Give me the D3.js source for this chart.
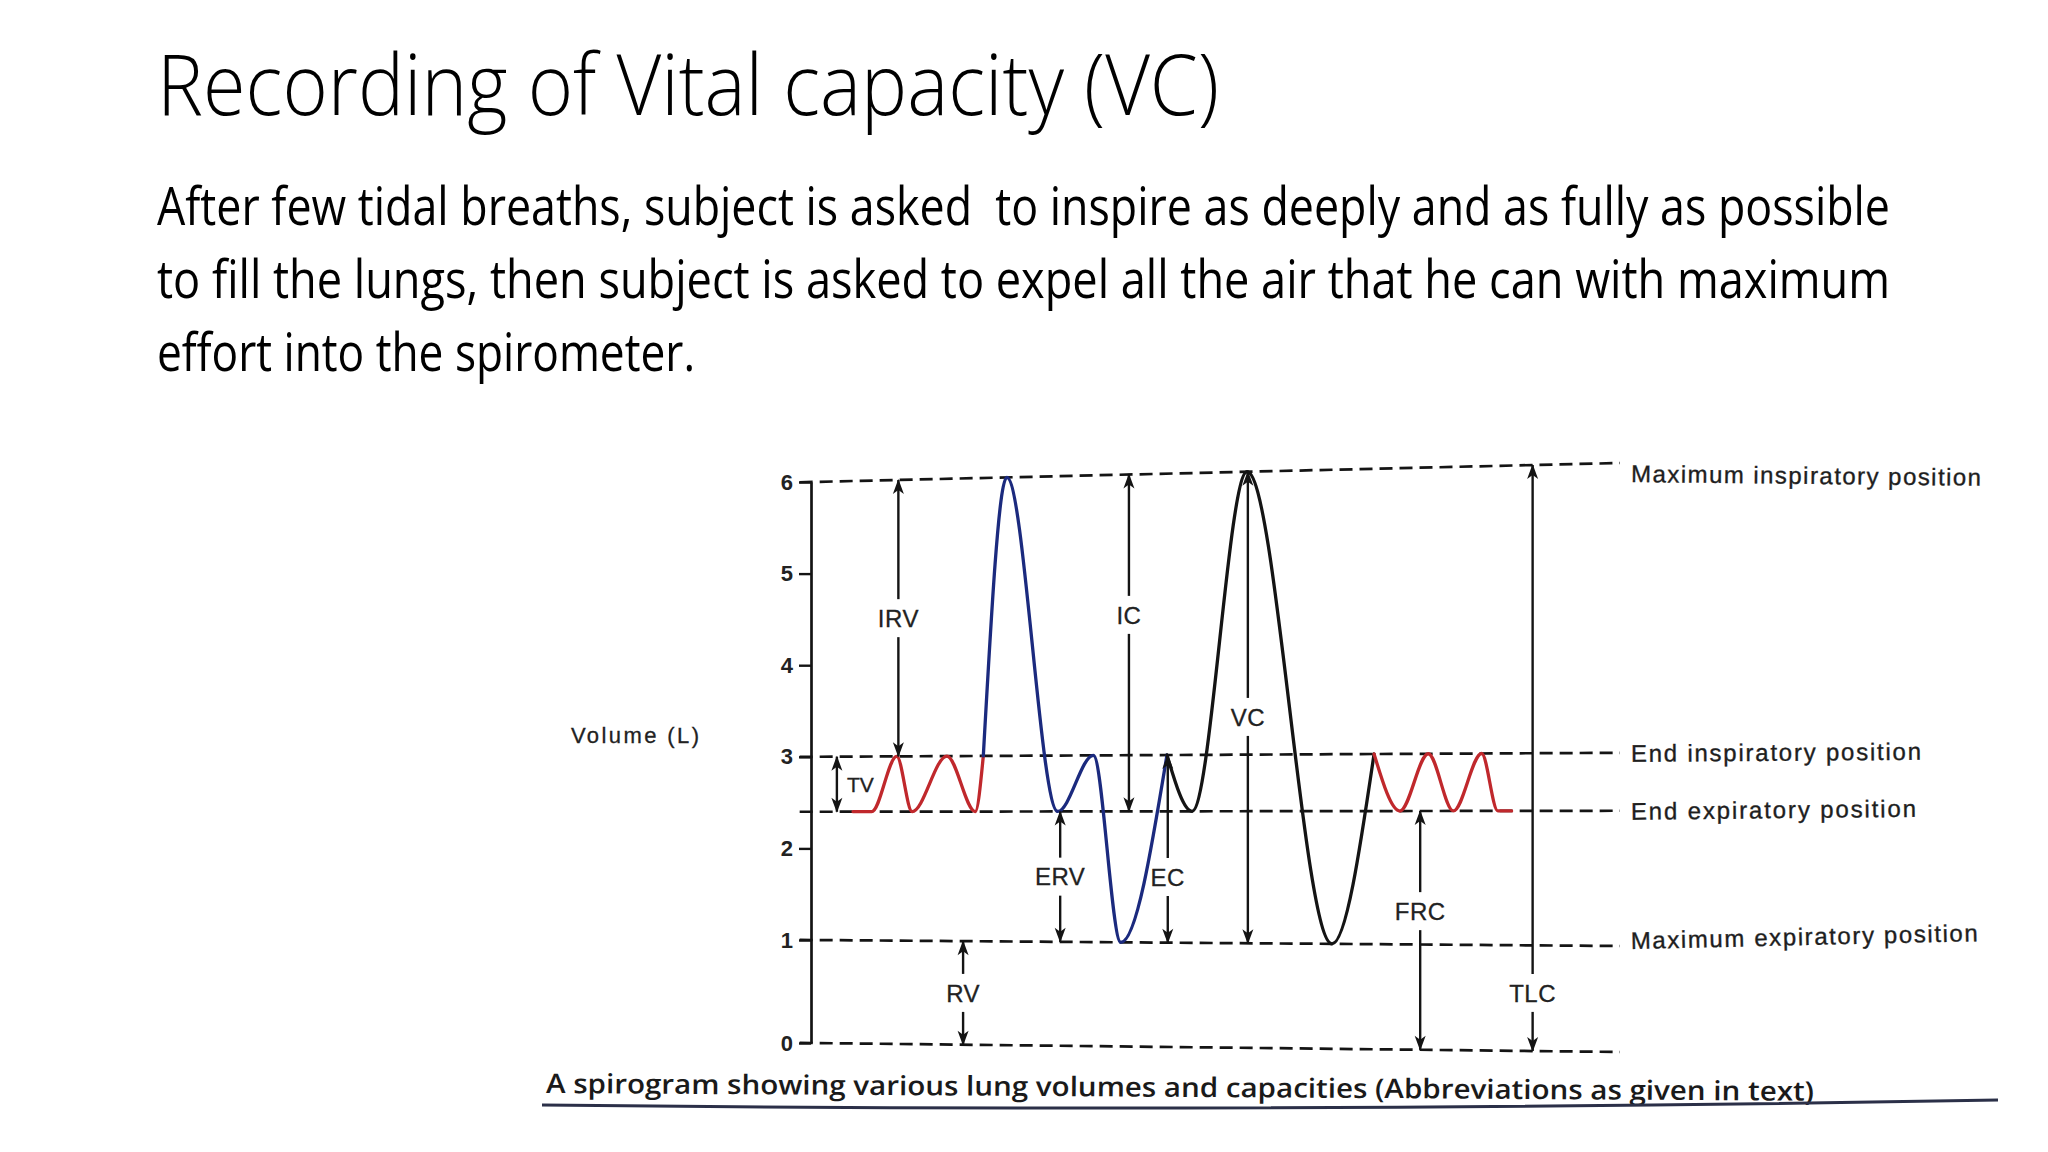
<!DOCTYPE html>
<html>
<head>
<meta charset="utf-8">
<script src="https://cdn.jsdelivr.net/npm/d3@7"></script>
<style>
  html, body { margin: 0; padding: 0; background: #ffffff; }
  svg { display: block; }
  text { white-space: pre; }
</style>
</head>
<body>
<svg id="chart" width="2048" height="1152"></svg>
<script>
// ---------------- DATA ----------------
const titleText = "Recording of Vital capacity (VC)";
const bodyLines = [
  "After few tidal breaths, subject is asked  to inspire as deeply and as fully as possible",
  "to fill the lungs, then subject is asked to expel all the air that he can with maximum",
  "effort into the spirometer."
];
const captionText = "A spirogram showing various lung volumes and capacities (Abbreviations as given in text)";
const yAxisLabel = "Volume (L)";
const yTicks = [0, 1, 2, 3, 4, 5, 6];

// reference levels (litres)
const levelNames = ["Maximum inspiratory position", "End inspiratory position", "End expiratory position", "Maximum expiratory position"];
const levelValues = [6, 3, 2.4, 1];
const baseValue = 0;

// spirogram trace segments: time (arbitrary units 0-100) and volume (L)
const tidal1T = [5.2, 7.5, 10.6, 12.5, 16.8, 20.3, 21.3];
const tidal1V = [2.4, 2.4, 3.0, 2.4, 3.0, 2.4, 3.0];
const blueT   = [21.3, 24.2, 30.5, 34.9, 38.3, 44.0];
const blueV   = [3.0, 6.0, 2.4, 3.0, 1.0, 3.0];
const blackT  = [44.0, 47.1, 53.9, 64.4, 69.6];
const blackV  = [3.0, 2.4, 6.0, 1.0, 3.0];
const tidal2T = [69.6, 72.8, 76.3, 79.4, 82.9, 84.9, 86.6];
const tidal2V = [3.0, 2.4, 3.0, 2.4, 3.0, 2.4, 2.4];

// volume / capacity arrows
const arrowNames   = ["TV", "IRV", "RV", "ERV", "IC", "EC", "VC", "FRC", "TLC"];
const arrowT       = [3.2, 10.8, 18.8, 30.8, 39.3, 44.1, 54.0, 75.3, 89.2];
const arrowFrom    = [2.4, 3, 0, 1, 2.4, 1, 1, 0, 0];
const arrowTo      = [3, 6, 1, 2.4, 6, 3, 6, 2.4, 6];
const arrowLabelAt = [2.7, 4.5, 0.5, 1.7, 4.5, 1.7, 3.4, 1.35, 0.55];

// ---------------- LAYOUT ----------------
const svg = d3.select("#chart");
const x = d3.scaleLinear().domain([0, 100]).range([811, 1620]);
// the scanned figure is slightly skewed: left and right edges use different vertical scales
const yLeft  = d3.scaleLinear().domain([0, 1, 6]).range([1043, 940, 482]);
const yRight = d3.scaleLinear().domain([0, 1, 6]).range([1052, 946, 463]);
const blend  = d3.scaleLinear().domain([0, 100]).range([0, 1]);
const y = (v, t) => yLeft(v) + (yRight(v) - yLeft(v)) * blend(t);

const INK = "#141414";
const RED = "#c0282c";
const BLUE = "#1b2a7e";
const chartFont = "'Liberation Sans', Arial, Helvetica, sans-serif";
const slideFont = "'Open Sans', 'Noto Sans', sans-serif";

// ---------------- SLIDE TEXT ----------------
svg.append("text")
  .attr("x", 157).attr("y", 115)
  .attr("font-family", slideFont).attr("font-weight", 300).attr("font-size", 84)
  .attr("fill", "#000")
  .attr("textLength", 1062).attr("lengthAdjust", "spacingAndGlyphs")
  .text(titleText);

const bodyLen = [1733, 1733, 538];
svg.selectAll("text.body").data(bodyLines).join("text")
  .attr("class", "body")
  .attr("x", 0).attr("y", 0)
  .attr("transform", (d, i) => `translate(157,${225 + i * 73}) scale(1,1.16)`)
  .attr("font-family", slideFont).attr("font-size", 46)
  .attr("fill", "#000")
  .attr("textLength", (d, i) => bodyLen[i]).attr("lengthAdjust", "spacingAndGlyphs")
  .text(d => d);

// ---------------- DEFS ----------------
const defs = svg.append("defs");
defs.append("marker")
  .attr("id", "ah")
  .attr("viewBox", "-16 -8 18 16")
  .attr("refX", 0).attr("refY", 0)
  .attr("markerWidth", 18).attr("markerHeight", 16)
  .attr("markerUnits", "userSpaceOnUse")
  .attr("orient", "auto-start-reverse")
  .append("path")
  .attr("d", "M1,0 L-14,-5.5 L-10,0 L-14,5.5 Z")
  .attr("fill", INK);

// ---------------- DASHED LEVEL LINES ----------------
const allLevels = levelValues.concat([baseValue]);
const straight = d3.line();
svg.selectAll("path.level").data(allLevels).join("path")
  .attr("class", "level")
  .attr("d", v => straight([[x(-1.4), y(v, -1.4)], [x(100), y(v, 100)]]))
  .attr("fill", "none")
  .attr("stroke", INK).attr("stroke-width", 2.7)
  .attr("stroke-dasharray", "13,7");

// ---------------- AXIS ----------------
const axisG = svg.append("g")
  .attr("transform", `translate(${x(0)},0)`)
  .call(d3.axisLeft(yLeft).tickValues(yTicks).tickSize(12).tickSizeOuter(0).tickPadding(6).tickFormat(d3.format("d")));
axisG.attr("font-family", chartFont).attr("font-size", 22);
axisG.select(".domain").attr("stroke", INK).attr("stroke-width", 2.7);
axisG.selectAll(".tick line").attr("stroke", INK).attr("stroke-width", 2.4);
axisG.selectAll(".tick text").attr("fill", "#222").attr("font-weight", "bold").attr("font-size", 22);

svg.append("text")
  .attr("x", 571).attr("y", 743)
  .attr("font-family", chartFont).attr("font-size", 22)
  .attr("fill", "#222").attr("stroke", "#222").attr("stroke-width", 0.3)
  .attr("textLength", 128).attr("lengthAdjust", "spacing")
  .text(yAxisLabel);

// ---------------- TRACE ----------------
const trace = d3.line()
  .x(d => x(d.t))
  .y(d => y(d.v, d.t))
  .curve(d3.curveMonotoneX);

const segments = [
  { t: tidal1T, v: tidal1V, color: RED },
  { t: blueT,   v: blueV,   color: BLUE },
  { t: blackT,  v: blackV,  color: INK },
  { t: tidal2T, v: tidal2V, color: RED }
];
svg.selectAll("path.trace").data(segments).join("path")
  .attr("class", "trace")
  .attr("d", s => trace(s.t.map((t, i) => ({ t: t, v: s.v[i] }))))
  .attr("fill", "none")
  .attr("stroke", s => s.color)
  .attr("stroke-width", 3.3)
  .attr("stroke-linejoin", "round")
  .attr("stroke-linecap", "round");

// ---------------- ARROWS ----------------
const GAP = 19;
const arrowsG = svg.append("g");
arrowNames.forEach((name, i) => {
  const t = arrowT[i];
  const ax = x(t);
  const yTop = y(arrowTo[i], t);
  const yBot = y(arrowFrom[i], t);
  const yLab = y(arrowLabelAt[i], t);
  if (name === "TV") {
    arrowsG.append("line")
      .attr("x1", ax).attr("x2", ax).attr("y1", yTop).attr("y2", yBot)
      .attr("stroke", INK).attr("stroke-width", 2.4)
      .attr("marker-start", "url(#ah)").attr("marker-end", "url(#ah)");
    arrowsG.append("text")
      .attr("x", ax + 10).attr("y", yLab).attr("dy", "0.36em")
      .attr("font-family", chartFont).attr("font-size", 21).attr("fill", "#222")
      .attr("stroke", "#222").attr("stroke-width", 0.3)
      .text(name);
  } else {
    arrowsG.append("line")
      .attr("x1", ax).attr("x2", ax).attr("y1", yTop).attr("y2", yLab - GAP)
      .attr("stroke", INK).attr("stroke-width", 2.4)
      .attr("marker-start", "url(#ah)");
    arrowsG.append("line")
      .attr("x1", ax).attr("x2", ax).attr("y1", yLab + GAP).attr("y2", yBot)
      .attr("stroke", INK).attr("stroke-width", 2.4)
      .attr("marker-end", "url(#ah)");
    arrowsG.append("text")
      .attr("x", ax).attr("y", yLab).attr("dy", "0.36em")
      .attr("text-anchor", "middle")
      .attr("font-family", chartFont).attr("font-size", 24).attr("fill", "#222")
      .attr("stroke", "#222").attr("stroke-width", 0.3)
      .attr("letter-spacing", 0.5)
      .text(name);
  }
});

// ---------------- LEVEL LABELS ----------------
const labelOffset = [19, 9, 9, 3];
const labelRot = [0.6, -0.4, -0.6, -1.3];
const labelLen = [350, 290, 285, 347];
svg.selectAll("text.levelLabel").data(levelNames).join("text")
  .attr("class", "levelLabel")
  .attr("x", 1631)
  .attr("y", (d, i) => y(levelValues[i], 100) + labelOffset[i])
  .attr("transform", (d, i) => `rotate(${labelRot[i]},1631,${y(levelValues[i], 100) + labelOffset[i]})`)
  .attr("font-family", chartFont).attr("font-size", 24).attr("fill", "#1e1e1e")
  .attr("stroke", "#1e1e1e").attr("stroke-width", 0.35)
  .attr("textLength", (d, i) => labelLen[i]).attr("lengthAdjust", "spacing")
  .text(d => d);

// ---------------- CAPTION ----------------
svg.append("text")
  .attr("x", 546).attr("y", 1093)
  .attr("transform", "rotate(0.35,546,1093)")
  .attr("font-family", slideFont).attr("font-weight", 600).attr("font-size", 27)
  .attr("fill", "#1a1a1a")
  .attr("textLength", 1268).attr("lengthAdjust", "spacingAndGlyphs")
  .text(captionText);

svg.append("path")
  .attr("d", "M542,1105 Q1270,1113 1998,1100")
  .attr("fill", "none")
  .attr("stroke", "#2b3048").attr("stroke-width", 3);
</script>
</body>
</html>
